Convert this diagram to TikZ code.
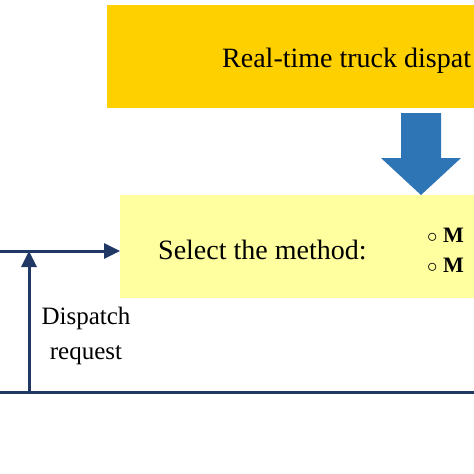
\documentclass[tikz,border=0pt]{standalone}
\usepackage{fontspec}
\setmainfont{Liberation Serif}
\usetikzlibrary{positioning}
\usetikzlibrary{shapes,arrows.meta}

\definecolor{gold}{RGB}{255,208,0}
\definecolor{paleyellow}{RGB}{255,255,160}
\definecolor{navy}{RGB}{31,56,100}
\definecolor{flowblue}{RGB}{46,117,182}

\tikzset{
	box/.style={anchor=north west, inner sep=0pt, minimum height=103pt},
	txt/.style={inner sep=0pt, font=\fontsize{28}{34}\selectfont},
	opt/.style={inner sep=0pt, anchor=base west, font=\fontsize{22}{30}\selectfont},
	link/.style={draw=navy, line width=3pt},
	feedarrow/.style={link, -{Triangle[length=16pt,width=15pt]}}
}

\begin{document}
\begin{tikzpicture}[x=1pt,y=-1pt]
	\useasboundingbox (0,0) rectangle (474,474);
	\clip (0,0) rectangle (474,474);

	\node[box, fill=gold, minimum width=383pt] (realtime) at (107,5) {};
	\node[txt, anchor=base west] (title) at (222,67) {Real-time truck dispat};

	\node[box, fill=paleyellow, minimum width=370pt] (select) at (120,195) {};
	\node[txt, anchor=base west] (method) at (158,259) {Select the method:};
	\node[opt] (opta) at (427,242) {$\circ$ \textbf{M}};
	\node[opt] (optb) at (427,272) {$\circ$ \textbf{M}};

	\coordinate (flow) at (421,113);
	\fill[flowblue] (flow) ++(-20,0) -- ++(40,0) -- ++(0,45) -- ++(20,0)
		-- (flow |- select.north) -- ++(-40,-37) -- ++(20,0) -- cycle;

	\coordinate (feed) at (0,251);
	\coordinate (req) at (29,392);
	\coordinate (bl) at (0,392);
	\coordinate (br) at (474,392);

	\path[feedarrow] (feed) -- (feed -| select.west);
	\path[feedarrow] (req) -- (req |- feed);
	\path[link] (bl) -- (br);

	\node[inner sep=0pt, anchor=north, align=center, font=\fontsize{25}{35}\selectfont] (reqlabel) at (86,307) {Dispatch\\request};

\end{tikzpicture}
\end{document}
